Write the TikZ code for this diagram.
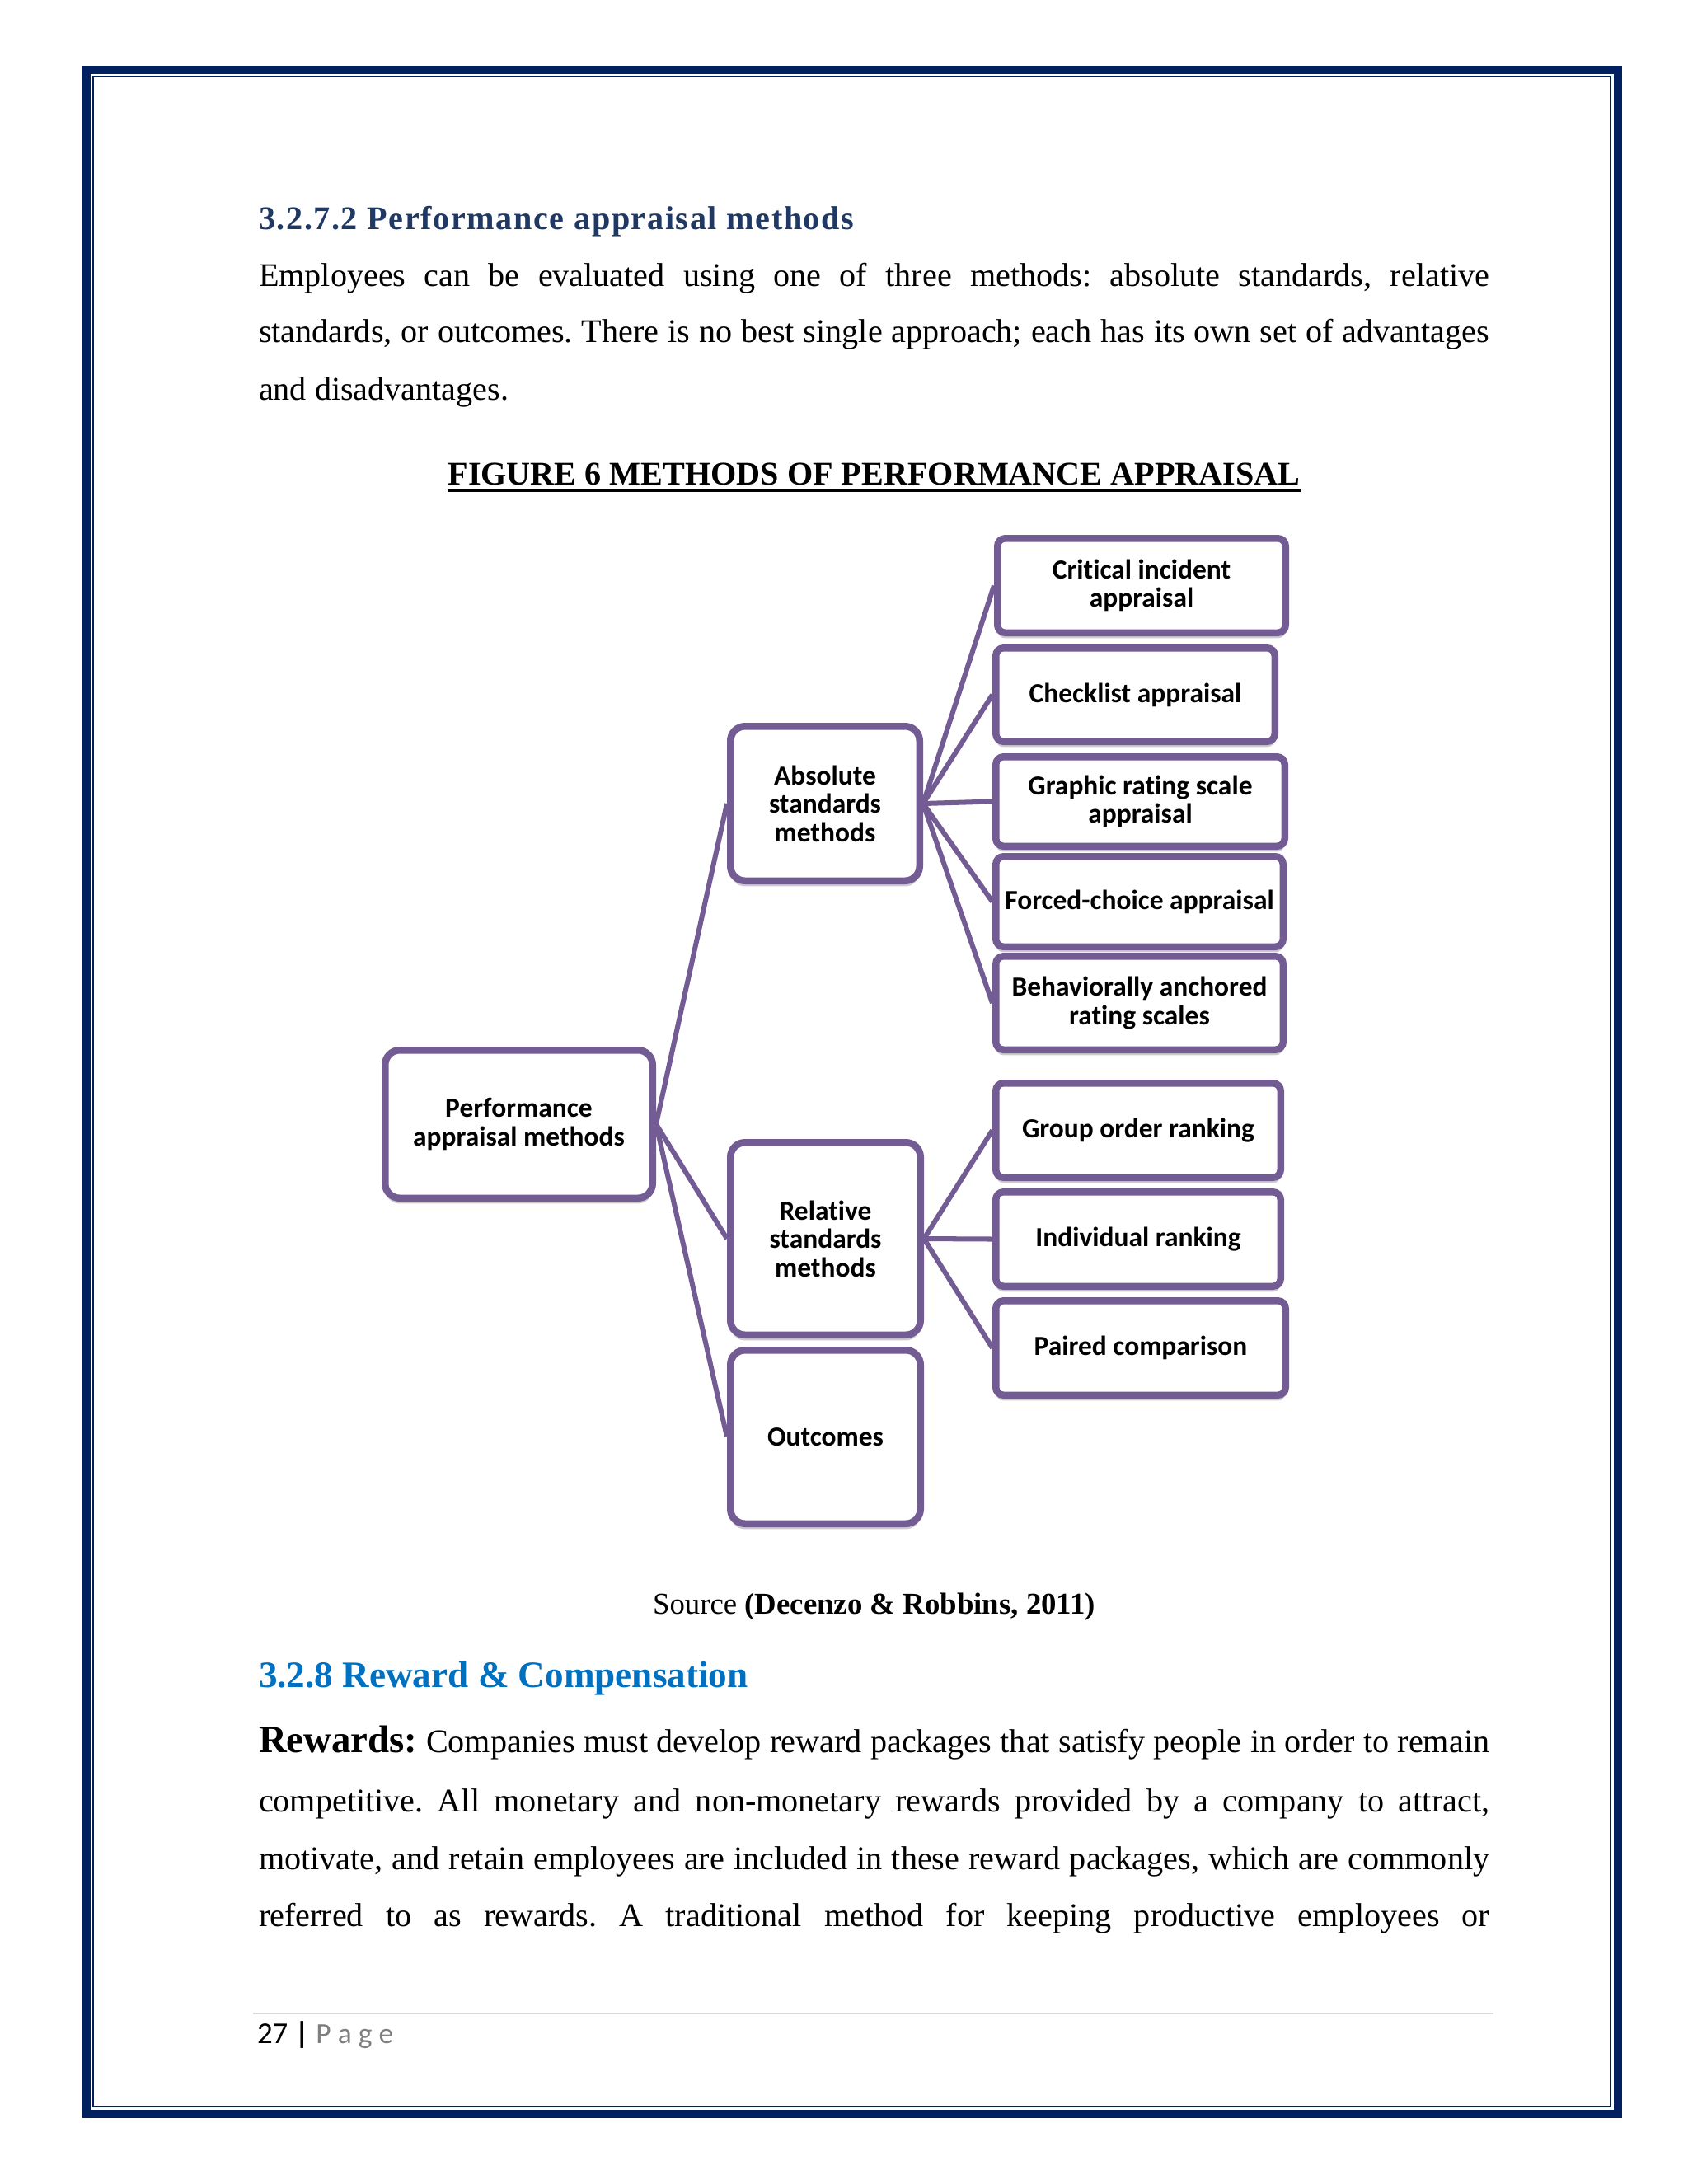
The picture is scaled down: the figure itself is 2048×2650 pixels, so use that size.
\documentclass[tikz,border=0pt]{standalone}
\usepackage{fontspec}
\setmainfont{Liberation Serif}
\newfontfamily\carlito[Ligatures=NoCommon]{Carlito}
\newfontfamily\headfont[LetterSpace=4]{Liberation Serif}
\usetikzlibrary{calc,shadows}
\definecolor{navy}{RGB}{0,32,96}
\definecolor{headblue}{RGB}{31,56,100}
\definecolor{secblue}{RGB}{0,112,192}
\definecolor{smpurple}{RGB}{115,91,147}
\definecolor{footgray}{RGB}{217,217,217}
\definecolor{pagegray}{RGB}{127,127,127}
\def\tw{446.2pt}
\frenchspacing
\begin{document}
\frenchspacing
\begin{tikzpicture}[x=0.29883pt,y=-0.29883pt,
  txt/.style={anchor=base west,inner sep=0pt,outer sep=0pt,font=\fontsize{12}{14}\selectfont},
  box/.style={draw=smpurple,line width=2.54pt,fill=white,rounded corners=2.8pt,align=center,inner sep=1pt,
     font=\carlito\bfseries\fontsize{10}{10.3}\selectfont,
     drop shadow={shadow xshift=0pt,shadow yshift=-2pt,opacity=0.2,fill=black}},
  bigbox/.style={box,rounded corners=5.3pt},
  link/.style={draw=smpurple,line width=1.8pt}]
\fill[white] (0,0) rectangle (2048,2650);
\useasboundingbox (0,0) rectangle (2048,2650);
% page border
\draw[navy,line width=2.99pt] (105,84.6) rectangle (1963,2565);
\draw[navy,line width=0.6pt] (113.3,93.3) rectangle (1954,2556);
% heading and paragraph
\node[txt,font=\headfont\bfseries\fontsize{12}{14}\selectfont,text=headblue] (h1) at (314,278) {3.2.7.2 Performance appraisal methods};
\node[txt] (p1a) at (314,347) {\makebox[\tw][s]{Employees can be evaluated using one of three methods: absolute standards, relative}};
\node[txt] (p1b) at (314,415) {\makebox[\tw][s]{standards, or outcomes. There is no best single approach; each has its own set of advantages}};
\node[txt] (p1c) at (314,485) {and disadvantages.};
% figure title
\node[txt,anchor=base,font=\bfseries\fontsize{12}{14}\selectfont] (ttl) at (1060.5,588) {FIGURE 6 METHODS OF PERFORMANCE APPRAISAL};
\draw[line width=1pt] ($(ttl.base west)+(0,7)$) -- ($(ttl.base east)+(0,7)$);
% diagram nodes
\node[bigbox,minimum width=96.97pt,minimum height=53.64pt] (perf) at (629.5,1364) {Performance\\appraisal methods};
\node[bigbox,minimum width=68.58pt,minimum height=56.03pt] (abs) at (1001,975) {Absolute\\standards\\methods};
\node[bigbox,minimum width=68.88pt,minimum height=69.78pt] (rel) at (1001.5,1503) {Relative\\standards\\methods};
\node[bigbox,minimum width=68.88pt,minimum height=62.90pt] (out) at (1001.5,1743.5) {Outcomes};
\node[box,minimum width=104.44pt,minimum height=34.22pt] (crit) at (1385,710.5) {Critical incident\\appraisal};
\node[box,minimum width=101.15pt,minimum height=33.92pt] (check) at (1377.5,843) {Checklist appraisal};
\node[box,minimum width=104.74pt,minimum height=32.42pt] (graph) at (1383.5,972.5) {Graphic rating scale\\appraisal};
\node[box,minimum width=104.14pt,minimum height=32.72pt] (forced) at (1382.5,1094) {Forced-choice appraisal};
\node[box,minimum width=104.14pt,minimum height=33.92pt] (behav) at (1382.5,1217) {Behaviorally anchored\\rating scales};
\node[box,minimum width=103.25pt,minimum height=34.22pt] (group) at (1381,1371.5) {Group order ranking};
\node[box,minimum width=103.25pt,minimum height=34.22pt] (indiv) at (1381,1503.5) {Individual ranking};
\node[box,minimum width=105.04pt,minimum height=34.22pt] (paired) at (1384,1635.5) {Paired comparison};
% connectors
\draw[link] (perf.east) -- (abs.west);
\draw[link] (perf.east) -- (rel.west);
\draw[link] (perf.east) -- (out.west);
\foreach \c in {crit,check,graph,forced,behav} \draw[link] (abs.east) -- (\c.west);
\foreach \c in {group,indiv,paired} \draw[link] (rel.east) -- (\c.west);
% source
\node[txt,anchor=base,font=\fontsize{11}{13}\selectfont] (src) at (1060.5,1958) {Source \textbf{(Decenzo \& Robbins, 2011)}};
% section 3.2.8
\node[txt,font=\bfseries\fontsize{13.5}{16}\selectfont,text=secblue] (h2) at (314,2047) {3.2.8 Reward \& Compensation};
\node[txt] (r1) at (314,2126) {\makebox[\tw][s]{{\bfseries\fontsize{14}{16}\selectfont Rewards:} Companies must develop reward packages that satisfy people in order to remain}};
\node[txt] (r2) at (314,2198) {\makebox[\tw][s]{competitive. All monetary and non-monetary rewards provided by a company to attract,}};
\node[txt] (r3) at (314,2268) {\makebox[\tw][s]{motivate, and retain employees are included in these reward packages, which are commonly}};
\node[txt] (r4) at (314,2337) {\makebox[\tw][s]{referred to as rewards. A traditional method for keeping productive employees or}};
% footer
\draw[footgray,line width=0.6pt] (307,2443) -- (1812,2443);
\node[txt,font=\carlito\fontsize{11}{13}\selectfont] (foot) at (312,2479) {27 \textbf{|} \textcolor{pagegray}{\fontsize{10.6}{13}\selectfont P a g e}};
\end{tikzpicture}
\end{document}
